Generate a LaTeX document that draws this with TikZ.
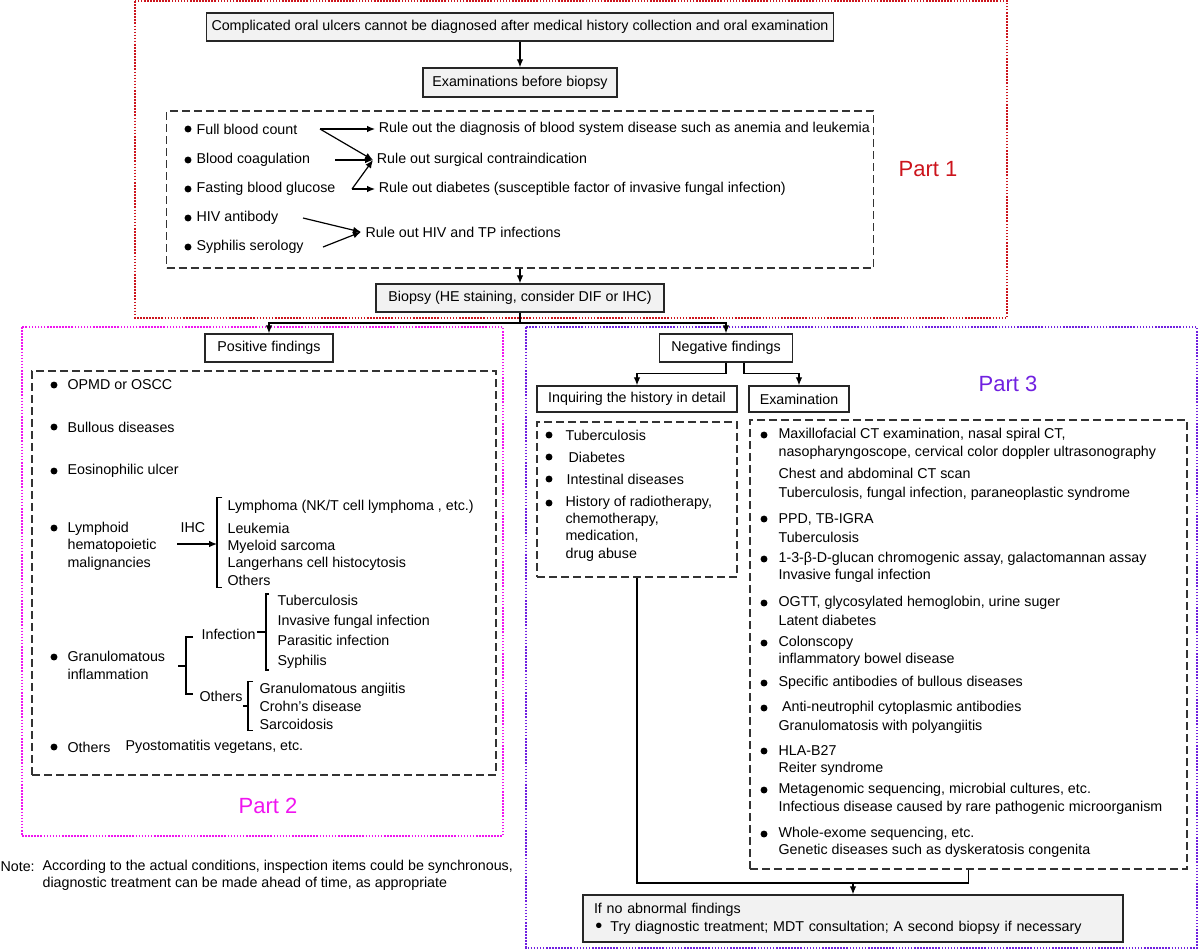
\documentclass[tikz,border=0pt]{standalone}
\usepackage{fontspec}
\setmainfont{Liberation Sans}
\usepackage{tikz}
\usetikzlibrary{arrows.meta}

\definecolor{partred}{RGB}{204,20,28}
\definecolor{partmag}{RGB}{240,20,240}
\definecolor{partpur}{RGB}{112,32,224}
\definecolor{boxgray}{RGB}{242,242,242}

\begin{document}
\begin{tikzpicture}[x=0.75pt,y=-0.75pt,line width=0.9pt,>={Latex[length=6pt,width=5pt]},
       font=\fontsize{10.7}{13}\selectfont]
       \tikzstyle{gbox}=[draw=black!85,line width=1.1pt,fill=boxgray,minimum height=21pt,inner sep=0pt]
       \tikzstyle{wbox}=[gbox,fill=white]
       \tikzstyle{dbox}=[draw=black!80,line width=1.1pt,dash pattern=on 6pt off 3pt,inner sep=0pt]
       \tikzstyle{txt}=[anchor=west,inner sep=0pt,align=left]
       \tikzstyle{frame}=[line width=1.4pt,dash pattern=on 1.2pt off 1.1pt]
       \tikzstyle{partlbl}=[inner sep=0pt,font=\fontsize{16.5}{18}\selectfont]

       \useasboundingbox (0,0) rectangle (1200,951);

       % Part 1
       \draw[frame,draw=partred] (135,1) rectangle (1007,318);
       \node[partlbl,text=partred] (p1) at (928,169) {Part 1};

       \node[gbox,minimum width=470pt] (top) at (520,27) {Complicated oral ulcers cannot be diagnosed after medical history collection and oral examination};
       \node[gbox,minimum width=145.5pt,minimum height=21.75pt] (exam) at (520,82.5) {Examinations before biopsy};
       \node[dbox,minimum width=530.25pt,minimum height=117.75pt] (pre) at (520,189.5) {};
       \node[gbox,minimum width=216pt] (biopsy) at (520,298) {Biopsy (HE staining, consider DIF or IHC)};

       \foreach \y in {129,160,189,218,247}
              \fill (188,\y) circle (2.6pt);
       \node[txt] (fbc) at (196,129) {Full blood count};
       \node[txt] (bco) at (196,160) {Blood coagulation};
       \node[txt] (fbg) at (196,189) {Fasting blood glucose};
       \node[txt] (hiv) at (196,218) {HIV antibody};
       \node[txt] (syp) at (196,247) {Syphilis serology};

       \node[txt,inner xsep=2.5pt] (r1) at (375,129) {Rule out the diagnosis of blood system disease such as anemia and leukemia};
       \node[txt,inner xsep=2.5pt] (r2) at (373,160) {Rule out surgical contraindication};
       \node[txt,inner xsep=2.5pt] (r3) at (375,189) {Rule out diabetes (susceptible factor of invasive fungal infection)};
       \node[txt,inner xsep=3pt] (r4) at (361,232) {Rule out HIV and TP infections};

       \coordinate (fbcout) at (320,129);
       \coordinate (bcoout) at (335,160);
       \coordinate (fbgout) at (352,189);
       \coordinate (hivout) at (303,218);
       \coordinate (sypout) at (323,247);

       \draw[->] (fbcout) -- (r1.west);
       \draw[->] (fbcout) -- (r2.west);
       \draw[->] (bcoout) -- (r2.west);
       \draw[->] (fbgout) -- (r2.west);
       \draw[->] (fbgout) -- (r3.west);
       \draw[->] (hivout) -- (r4.west);
       \draw[->] (sypout) -- (r4.west);

       \draw[->] (top) -- (exam);
       \draw[->] (pre.south) -- (biopsy.north);

       \coordinate (split) at (520,323);
       \draw (biopsy.south) -- (split);

       % Part 2
       \draw[frame,draw=partmag] (22,327) rectangle (503,836);
       \node[partlbl,text=partmag] (p2) at (268,806) {Part 2};

       \node[wbox,minimum width=96pt] (pos) at (269,348) {Positive findings};
       \draw[->] (split) -| (pos.north);
       \node[dbox,minimum width=348pt,minimum height=303pt] (poslist) at (264,573) {};

       \foreach \y in {385,427,471,528,657,747}
              \fill (54,\y) circle (2.6pt);
       \node[txt] (opmd) at (67,385) {OPMD or OSCC};
       \node[txt] (bull) at (67,427) {Bullous diseases};
       \node[txt] (eos) at (67,471) {Eosinophilic ulcer};
       \node[txt] (lymph) at (67,546) {Lymphoid\\hematopoietic\\malignancies};

       \node[inner sep=0pt] (ihc) at (193,528) {IHC};
       \coordinate (ihcin) at (177,544);
       \node[txt,inner xsep=7.5pt,inner ysep=1pt] (lym) at (217,542.5) {Lymphoma (NK/T cell lymphoma , etc.)\\[4.25pt]Leukemia\\Myeloid sarcoma\\Langerhans cell histocytosis\\Others};
       \draw ([xshift=4pt]lym.north west) -- (lym.north west) -- (lym.south west) -- ([xshift=4pt]lym.south west);
       \draw[->] (ihcin) -- (ihcin -| lym.west);

       \node[txt] (gran) at (67,665.5) {Granulomatous\\inflammation};
       \draw (193,637) -- (186,637) -- (186,694) -- (193,694);
       \draw (178,666) -- (186,666);
       \node[txt] (inf) at (201,634) {Infection};
       \node[txt] (oth) at (199,696) {Others};

       \node[txt,inner xsep=8.25pt,inner ysep=0.5pt] (inflist) at (266,632) {Tuberculosis\\[2pt]Invasive fungal infection\\[2pt]Parasitic infection\\[2pt]Syphilis};
       \draw ([xshift=2.25pt]inflist.north west) -- (inflist.north west) -- (inflist.south west) -- ([xshift=2.25pt]inflist.south west);
       \draw (inflist.west) -- ++(-9,0);

       \node[txt,inner xsep=8.25pt,inner ysep=0.5pt] (othlist) at (248,706) {Granulomatous angiitis\\[0.5pt]Crohn’s disease\\[0.5pt]Sarcoidosis};
       \draw ([xshift=3.75pt]othlist.north west) -- (othlist.north west) -- (othlist.south west) -- ([xshift=3.75pt]othlist.south west);
       \draw (othlist.west) -- ++(-5,0);

       \node[txt] (oth2) at (67,747) {Others};
       \node[txt] (pyo) at (125,747) {Pyostomatitis vegetans, etc.};

       \node[txt] (note) at (0,867) {Note:};
       \node[txt] (notetxt) at (42,875.5) {According to the actual conditions, inspection items could be synchronous,\\diagnostic treatment can be made ahead of time, as appropriate};

       % Part 3
       \draw[frame,draw=partpur] (526,327) rectangle (1197,948);
       \node[partlbl,text=partpur] (p3) at (1008,384) {Part 3};

       \node[wbox,minimum width=99.75pt] (neg) at (726,348) {Negative findings};
       \draw[->] (split) -| (neg.north);
       \node[wbox,minimum width=150pt,minimum height=19.5pt] (hist) at (637,399) {Inquiring the history in detail};
       \node[wbox,minimum width=75pt,minimum height=19.5pt] (exam2) at (799,399) {Examination};
       \draw[->] (neg.south) -- ++(0,11) -| (hist.north);
       \draw[->] ([xshift=13.5pt]neg.south) -- ++(0,11) -| (exam2.north);

       \node[dbox,minimum width=150pt,minimum height=116.25pt] (histlist) at (637,499.5) {};
       \foreach \y in {435,457,479,503}
              \fill (549,\y) circle (2.6pt);
       \node[txt] (h1) at (565,435) {Tuberculosis};
       \node[txt] (h2) at (568,457) {Diabetes};
       \node[txt] (h3) at (566,479) {Intestinal diseases};
       \node[txt] (h4) at (565,528.5) {History of radiotherapy,\\chemotherapy,\\medication,\\drug abuse};

       \node[dbox,minimum width=327.75pt,minimum height=336.75pt] (exlist) at (968.5,644.5) {};
       \foreach \y in {435,519,559,603,643,683,708,751,790,834}
              \fill (764,\y) circle (2.6pt);
       \foreach \y/\t in {435/{Maxillofacial CT examination, nasal spiral CT,},
                     453/{nasopharyngoscope, cervical color doppler ultrasonography},
                     473/{Chest and abdominal CT scan},
                     494/{Tuberculosis, fungal infection, paraneoplastic syndrome},
                     519/{PPD, TB-IGRA}, 537/{Tuberculosis},
                     559/{1-3-β-D-glucan chromogenic assay, galactomannan assay},
                     576/{Invasive fungal infection},
                     603/{OGTT, glycosylated hemoglobin, urine suger}, 620/{Latent diabetes},
                     643/{Colonscopy}, 660/{inflammatory bowel disease},
                     683/{Specific antibodies of bullous diseases},
                     708/{\hspace{2.6pt}Anti-neutrophil cytoplasmic antibodies},
                     727/{Granulomatosis with polyangiitis},
                     751/{HLA-B27}, 769/{Reiter syndrome},
                     790/{Metagenomic sequencing, microbial cultures, etc.},
                     808/{Infectious disease caused by rare pathogenic microorganism},
                     834/{Whole-exome sequencing, etc.},
                     851/{Genetic diseases such as dyskeratosis congenita}}
              \node[txt] (ex\y) at (778,\y) {\t};

       \node[gbox,text width=388.5pt,inner xsep=8.25pt,minimum height=35.25pt,align=left,font=\fontsize{10.7}{13.5}\selectfont] (final) at (853,918.5) {If no abnormal findings\\\hspace*{1pt}\raisebox{-1pt}{\fontsize{15}{13.5}\selectfont\textbullet}\hspace{6pt}Try diagnostic treatment; MDT consultation; A second biopsy if necessary};

       \coordinate (merge) at (853,883);
       \draw (histlist.south) |- (merge) -| (exlist.south);
       \draw[->] (merge) -- (final.north);
\end{tikzpicture}
\end{document}
